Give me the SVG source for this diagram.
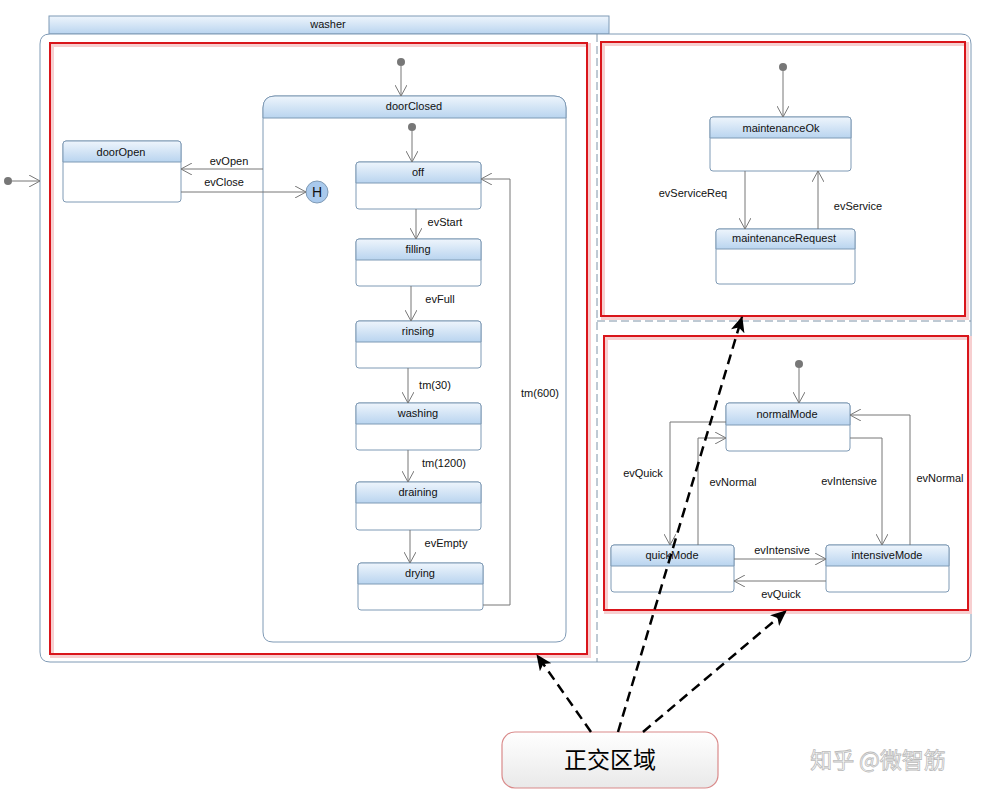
<svg xmlns="http://www.w3.org/2000/svg" width="986" height="798" viewBox="0 0 986 798">
<defs>
<linearGradient id="hdr" x1="0" y1="0" x2="0" y2="1">
<stop offset="0" stop-color="#eef5fc"/>
<stop offset="1" stop-color="#b9d4ef"/>
</linearGradient>
<linearGradient id="call" x1="0" y1="0" x2="0" y2="1">
<stop offset="0" stop-color="#ffffff"/>
<stop offset="1" stop-color="#e9e9e9"/>
</linearGradient>
<marker id="open" viewBox="0 0 12 12" refX="11" refY="6" markerWidth="12" markerHeight="12" markerUnits="userSpaceOnUse" orient="auto">
<path d="M0,0 L11,6 L0,12" fill="none" stroke="#777" stroke-width="1"/>
</marker>
<marker id="solid" viewBox="0 0 16 14" refX="15" refY="7" markerWidth="16" markerHeight="14" markerUnits="userSpaceOnUse" orient="auto">
<path d="M0,0 L16,7 L0,14 L4,7 Z" fill="#000"/>
</marker>
</defs>
<style>
text{font-family:"Liberation Sans","DejaVu Sans",Arial,sans-serif;font-size:11px;fill:#111;}
.c{text-anchor:middle;}
.box{fill:#fff;stroke:#7f9ab5;stroke-width:1;}
.hd{fill:url(#hdr);stroke:#7f9ab5;stroke-width:1;}
.tr{fill:none;stroke:#777;stroke-width:1;marker-end:url(#open);}
.dot{fill:#777;}
.red{fill:none;stroke:#d9151b;stroke-width:2;}
.pink{fill:none;stroke:#f7cfd0;stroke-width:4;}
.dash{fill:none;stroke:#7f94a8;stroke-width:1;stroke-dasharray:8,4;}
.call{fill:none;stroke:#000;stroke-width:2.5;stroke-dasharray:10,6;marker-end:url(#solid);}
</style>

<g id="washer">
<rect x="49" y="16" width="560" height="18" class="hd"/>
<text x="328" y="28" class="c">washer</text>
<path d="M50,34 H961 Q971,34 971,44 V652 Q971,662 961,662 H50 Q40,662 40,652 V44 Q40,34 50,34 Z" class="box" fill="none"/>
<line x1="597" y1="34" x2="597" y2="662" class="dash"/>
<line x1="597" y1="321" x2="971" y2="321" class="dash"/>
</g>

<g id="regions">
<rect x="52" y="45" width="537" height="611" class="pink"/>
<rect x="50" y="43" width="537" height="611" class="red"/>
<rect x="603" y="44" width="364" height="274" class="pink"/>
<rect x="601" y="42" width="364" height="274" class="red"/>
<rect x="606" y="338" width="364" height="274" class="pink"/>
<rect x="604" y="336" width="364" height="274" class="red"/>
</g>

<g id="doorClosed">
<path d="M263,632 V108 Q263,96 275,96 H554 Q566,96 566,108 V632 Q566,642 556,642 H273 Q263,642 263,632 Z" class="box"/>
<path d="M263,118 V108 Q263,96 275,96 H554 Q566,96 566,108 V118 Z" class="hd"/>
<text x="414" y="110" class="c">doorClosed</text>
</g>

<g id="doorOpen">
<rect x="63" y="141" width="118" height="61" rx="3" class="box"/>
<path d="M63,162 V144 Q63,141 66,141 H178 Q181,141 181,144 V162 Z" class="hd"/>
<text x="121" y="156" class="c">doorOpen</text>
</g>

<g id="history">
<circle cx="317" cy="192" r="11" fill="#a9c9ec" stroke="#7f9ab5"/>
<text x="317" y="197" class="c" style="font-size:14px">H</text>
</g>

<g id="off">
<rect x="356" y="162" width="125" height="47" rx="3" class="box"/>
<path d="M356,183 V165 Q356,162 359,162 H478 Q481,162 481,165 V183 Z" class="hd"/>
<text x="418" y="176" class="c">off</text>
</g>
<g id="filling">
<rect x="356" y="239" width="125" height="47" rx="3" class="box"/>
<path d="M356,260 V242 Q356,239 359,239 H478 Q481,239 481,242 V260 Z" class="hd"/>
<text x="418" y="253" class="c">filling</text>
</g>
<g id="rinsing">
<rect x="356" y="321" width="125" height="47" rx="3" class="box"/>
<path d="M356,342 V324 Q356,321 359,321 H478 Q481,321 481,324 V342 Z" class="hd"/>
<text x="418" y="335" class="c">rinsing</text>
</g>
<g id="washing">
<rect x="356" y="403" width="125" height="47" rx="3" class="box"/>
<path d="M356,424 V406 Q356,403 359,403 H478 Q481,403 481,406 V424 Z" class="hd"/>
<text x="418" y="417" class="c">washing</text>
</g>
<g id="draining">
<rect x="356" y="482" width="125" height="48" rx="3" class="box"/>
<path d="M356,503 V485 Q356,482 359,482 H478 Q481,482 481,485 V503 Z" class="hd"/>
<text x="418" y="496" class="c">draining</text>
</g>
<g id="drying">
<rect x="358" y="563" width="125" height="47" rx="3" class="box"/>
<path d="M358,584 V566 Q358,563 361,563 H480 Q483,563 483,566 V584 Z" class="hd"/>
<text x="420" y="577" class="c">drying</text>
</g>

<g id="maintenanceOk">
<rect x="710" y="117" width="141" height="54" rx="3" class="box"/>
<path d="M710,138 V120 Q710,117 713,117 H848 Q851,117 851,120 V138 Z" class="hd"/>
<text x="781" y="132" class="c">maintenanceOk</text>
</g>
<g id="maintenanceRequest">
<rect x="716" y="229" width="139" height="55" rx="3" class="box"/>
<path d="M716,249 V232 Q716,229 719,229 H852 Q855,229 855,232 V249 Z" class="hd"/>
<text x="784" y="242" class="c">maintenanceRequest</text>
</g>

<g id="normalMode">
<rect x="726" y="403" width="124" height="48" rx="3" class="box"/>
<path d="M726,425 V406 Q726,403 729,403 H847 Q850,403 850,406 V425 Z" class="hd"/>
<text x="787" y="418" class="c">normalMode</text>
</g>
<g id="quickMode">
<rect x="611" y="545" width="123" height="47" rx="3" class="box"/>
<path d="M611,566 V548 Q611,545 614,545 H731 Q734,545 734,548 V566 Z" class="hd"/>
<text x="672" y="559" class="c">quickMode</text>
</g>
<g id="intensiveMode">
<rect x="826" y="545" width="123" height="47" rx="3" class="box"/>
<path d="M826,566 V548 Q826,545 829,545 H946 Q949,545 949,548 V566 Z" class="hd"/>
<text x="887" y="559" class="c">intensiveMode</text>
</g>

<g id="initials">
<circle cx="8" cy="181" r="4" class="dot"/>
<circle cx="401" cy="62" r="4" class="dot"/>
<circle cx="412" cy="127" r="4" class="dot"/>
<circle cx="783" cy="67" r="4" class="dot"/>
<circle cx="799" cy="364" r="4" class="dot"/>
</g>

<g id="connectors">
<line x1="12" y1="181" x2="40" y2="181" class="tr"/>
<line x1="401" y1="66" x2="401" y2="96" class="tr"/>
<line x1="412" y1="131" x2="412" y2="162" class="tr"/>
<line x1="263" y1="169" x2="181" y2="169" class="tr"/>
<line x1="181" y1="192" x2="306" y2="192" class="tr"/>
<line x1="416" y1="209" x2="416" y2="239" class="tr"/>
<line x1="411" y1="286" x2="411" y2="321" class="tr"/>
<line x1="408" y1="368" x2="408" y2="403" class="tr"/>
<line x1="408" y1="450" x2="408" y2="482" class="tr"/>
<line x1="410" y1="530" x2="410" y2="563" class="tr"/>
<path d="M483,605 H510 V179 H481" class="tr"/>
<line x1="783" y1="71" x2="783" y2="117" class="tr"/>
<line x1="745" y1="171" x2="745" y2="229" class="tr"/>
<line x1="818" y1="229" x2="818" y2="171" class="tr"/>
<line x1="799" y1="368" x2="799" y2="403" class="tr"/>
<path d="M726,422 H670 V545" class="tr"/>
<path d="M698,545 V438 H726" class="tr"/>
<path d="M850,438 H882 V545" class="tr"/>
<path d="M910,545 V415 H850" class="tr"/>
<line x1="734" y1="559" x2="826" y2="559" class="tr"/>
<line x1="826" y1="581" x2="734" y2="581" class="tr"/>
</g>

<g id="labels">
<text x="229" y="165" class="c">evOpen</text>
<text x="224" y="186" class="c">evClose</text>
<text x="445" y="226" class="c">evStart</text>
<text x="440" y="303" class="c">evFull</text>
<text x="435" y="389" class="c">tm(30)</text>
<text x="444" y="467" class="c">tm(1200)</text>
<text x="446" y="547" class="c">evEmpty</text>
<text x="540" y="397" class="c">tm(600)</text>
<text x="693" y="197" class="c">evServiceReq</text>
<text x="858" y="210" class="c">evService</text>
<text x="643" y="477" class="c">evQuick</text>
<text x="733" y="486" class="c">evNormal</text>
<text x="849" y="485" class="c">evIntensive</text>
<text x="940" y="482" class="c">evNormal</text>
<text x="782" y="554" class="c">evIntensive</text>
<text x="781" y="598" class="c">evQuick</text>
</g>

<g id="callout">
<rect x="502" y="732" width="216" height="56" rx="13" fill="url(#call)" stroke="#d98a8a" stroke-width="1.2"/>
<text x="610" y="768" class="c" style="font-family:'Noto Sans CJK SC','Liberation Sans',sans-serif;font-size:23px;fill:#000">正交区域</text>
</g>

<g id="callout-arrows">
<line x1="591" y1="732" x2="537" y2="655" class="call"/>
<line x1="618" y1="732" x2="742" y2="317" class="call"/>
<line x1="643" y1="732" x2="786" y2="611" class="call"/>
</g>

<text x="878" y="768" class="c" style="font-family:'Noto Sans CJK SC',sans-serif;font-size:22px;fill:#fff;stroke:#bbb;stroke-width:0.8">知乎 @微智筋</text>
</svg>
